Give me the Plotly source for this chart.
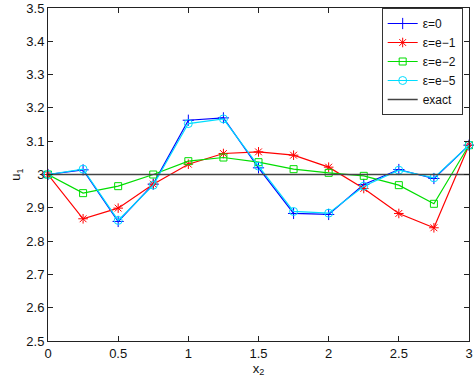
import plotly.graph_objects as go

x = [0, 0.25, 0.5, 0.75, 1, 1.25, 1.5, 1.75, 2, 2.25, 2.5, 2.75, 3]
eps0 = [3.0, 3.014, 2.859, 2.971, 3.163, 3.170, 3.020, 2.883, 2.880, 2.970, 3.015, 2.988, 3.088]
eps1 = [3.0, 2.867, 2.899, 2.971, 3.031, 3.063, 3.068, 3.058, 3.022, 2.958, 2.883, 2.840, 3.088]
eps2 = [3.0, 2.944, 2.965, 3.000, 3.040, 3.051, 3.037, 3.016, 3.005, 2.996, 2.968, 2.912, 3.088]
eps5 = [3.0, 3.016, 2.862, 2.968, 3.153, 3.167, 3.025, 2.889, 2.884, 2.965, 3.013, 2.990, 3.088]
exact_x = [0, 3]
exact_y = [3, 3]

xticks = [0, 0.5, 1, 1.5, 2, 2.5, 3]
xtick_text = ["0", "0.5", "1", "1.5", "2", "2.5", "3"]
yticks = [2.5, 2.6, 2.7, 2.8, 2.9, 3.0, 3.1, 3.2, 3.3, 3.4, 3.5]
ytick_text = ["2.5", "2.6", "2.7", "2.8", "2.9", "3", "3.1", "3.2", "3.3", "3.4", "3.5"]

FONT = "Liberation Sans, Arial, sans-serif"

fig = go.Figure()
series = [
    ("ε=0", eps0, "#0000ff", "cross-thin-open", 8),
    ("ε=e−1", eps1, "#ff0000", "asterisk-open", 8),
    ("ε=e−2", eps2, "#00dd00", "square-open", 7),
    ("ε=e−5", eps5, "#00ddff", "circle-open", 8),
]
for name, ys, col, sym, sz in series:
    fig.add_trace(go.Scatter(
        x=x, y=ys, name=name, mode="lines+markers",
        line=dict(color=col, width=1.2),
        marker=dict(symbol=sym, size=sz, color=col, line=dict(color=col, width=1)),
        cliponaxis=False,
    ))
fig.add_trace(go.Scatter(x=exact_x, y=exact_y, name="exact", mode="lines",
                         line=dict(color="#444444", width=1.6)))

axis_common = dict(
    showgrid=False, zeroline=False, showline=True, linecolor="#222222", linewidth=1,
    mirror="ticks", ticks="inside", ticklen=5, tickcolor="#222222", automargin=False,
    tickfont=dict(family=FONT, size=13, color="#111111"),
)
fig.update_xaxes(range=[0, 3], tickvals=xticks, ticktext=xtick_text,
                 title=dict(text="x<sub>2</sub>", standoff=2, font=dict(family=FONT, size=13)),
                 **axis_common)
fig.update_yaxes(range=[2.5, 3.5], tickvals=yticks, ticktext=ytick_text,
                 title=dict(text="u<sub>1</sub>", standoff=2, font=dict(family=FONT, size=13)),
                 **axis_common)
fig.update_layout(
    width=474, height=380,
    margin=dict(l=48, r=5, t=8, b=39),
    plot_bgcolor="white", paper_bgcolor="white",
    font=dict(family=FONT, size=12, color="#111111"),
    legend=dict(x=0.985, y=1.0, xanchor="right", yanchor="top",
                bgcolor="white", bordercolor="#333333", borderwidth=1,
                font=dict(size=12), tracegroupgap=0, itemwidth=30),
    showlegend=True,
)
fig.write_html("out.html", config={"displayModeBar": False},
               post_script="document.body.style.margin='0';")
